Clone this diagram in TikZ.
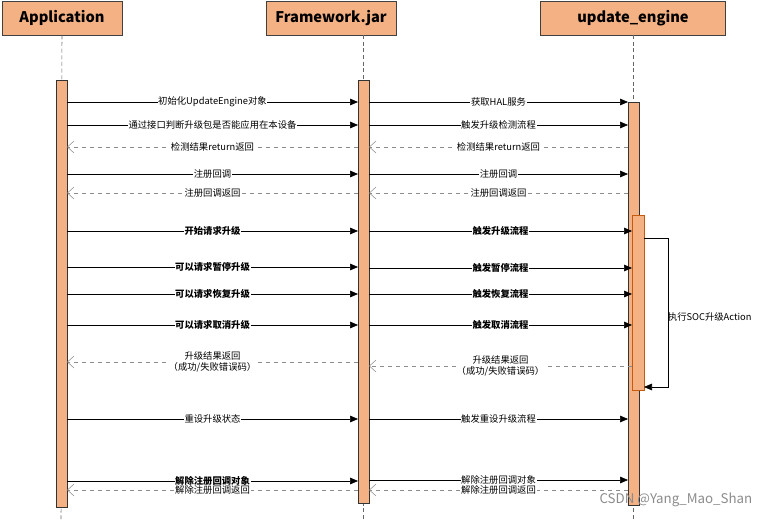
\documentclass[tikz,border=0pt]{standalone}
\usepackage{fontspec}
\setmainfont{Noto Sans CJK SC}
\usetikzlibrary{arrows.meta}
\definecolor{box}{HTML}{F4B183}
\definecolor{boxd}{HTML}{C55A11}
\tikzset{
 head/.style={draw=black!75,fill=box,minimum height=34*0.75pt,font=\bfseries\fontsize{11}{13}\selectfont,inner sep=0pt},
 act/.style={draw=black!80,fill=box},
 msg/.style={-{Triangle[length=6pt,width=5pt]},black},
 ret/.style={-{Straight Barb[length=5pt,width=9pt]},dashed,black!45},
 lab/.style={fill=white,inner sep=0.5pt,text=black,font=\fontsize{7}{8.5}\selectfont,align=center},
 blab/.style={lab,font=\bfseries\fontsize{7}{8.5}\selectfont},
 life/.style={dashed,black!60,dash pattern=on 3pt off 2pt}
}
\begin{document}
\begin{tikzpicture}[x=0.75pt,y=-0.75pt]
\useasboundingbox (0,0) rectangle (765,519);
\node[head,minimum width=120*0.75pt] (A) at (62,18) {Application};
\node[head,minimum width=130*0.75pt] (F) at (331,18) {Framework.jar};
\node[head,minimum width=185*0.75pt] (U) at (633,18) {update\_engine};
\draw[life] (A.south) -- (61,519);
\draw[life] (363,35) -- (363,519);
\draw[life] (633,35) -- (633,519);
\draw[act] (56,80) rectangle (67,507);
\draw[act] (358,80) rectangle (369,503);
\draw[act] (628,102) rectangle (639,505);
\draw[act,draw=boxd] (632,215) rectangle (644,390);
% self loop
\coordinate (s1) at (644,238); \coordinate (s2) at (644,387);
\draw[msg] (s1) -- (668,238) -- (668,387) -- (s2);
\node[lab,fill=none,anchor=west] (sl) at (667,317) {执行SOC升级Action};
% left column
\foreach \y/\t/\s in {102/初始化UpdateEngine对象/lab,125/通过接口判断升级包是否能应用在本设备/lab,174/注册回调/lab,231/开始请求升级/blab,267/可以请求暂停升级/blab,294/可以请求恢复升级/blab,325/可以请求取消升级/blab,419/重设升级状态/lab,481/解除注册回调对象/blab}{
 \coordinate (a\y) at (67,\y); \coordinate (f\y) at (358,\y);
 \draw[msg] (a\y) -- node[\s]{\t} (f\y);}
\foreach \y/\t in {147/检测结果return返回,193/注册回调返回,490/解除注册回调返回}{
 \coordinate (a\y) at (67,\y); \coordinate (f\y) at (358,\y);
 \draw[ret] (f\y) -- node[lab]{\t} (a\y);}
\coordinate (ar) at (67,362); \coordinate (fr) at (358,362);
\draw[ret] (fr) -- node[lab]{升级结果返回\\（成功/失败错误码）} (ar);
% right column
\foreach \y/\t/\s in {102/获取HAL服务/lab,125/触发升级检测流程/lab,174/注册回调/lab,419/触发重设升级流程/lab,480/解除注册回调对象/lab}{
 \coordinate (g\y) at (369,\y); \coordinate (u\y) at (628,\y);
 \draw[msg] (g\y) -- node[\s]{\t} (u\y);}
\foreach \y/\t in {231/触发升级流程,268/触发暂停流程,294/触发恢复流程,325/触发取消流程}{
 \coordinate (g\y) at (369,\y); \coordinate (u\y) at (632,\y);
 \draw[msg] (g\y) -- node[blab]{\t} (u\y);}
\foreach \y/\t in {147/检测结果return返回,193/注册回调返回,490/解除注册回调返回}{
 \coordinate (g\y) at (369,\y); \coordinate (u\y) at (628,\y);
 \draw[ret] (u\y) -- node[lab]{\t} (g\y);}
\coordinate (gr) at (369,366); \coordinate (ur) at (632,366);
\draw[ret] (ur) -- node[lab]{升级结果返回\\（成功/失败错误码）} (gr);
\node[anchor=east,text=black!45,font=\fontsize{10}{12}\selectfont] (wm) at (757,500) {CSDN @Yang\_Mao\_Shan};
\end{tikzpicture}
\end{document}
